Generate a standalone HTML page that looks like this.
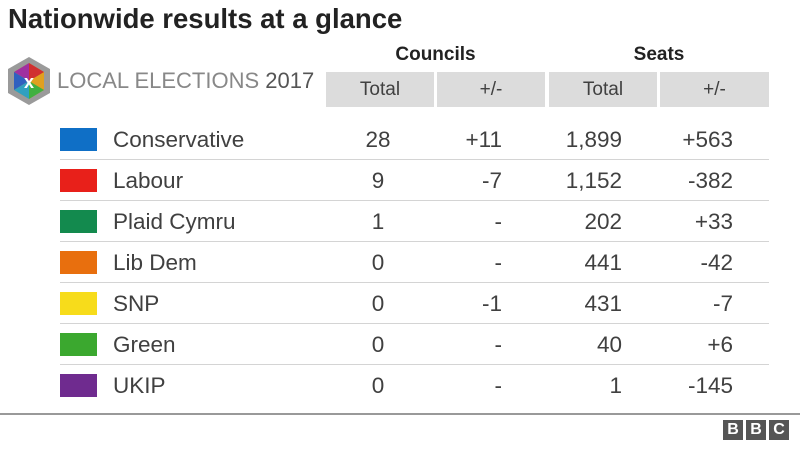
<!DOCTYPE html>
<html><head><meta charset="utf-8"><style>
body{margin:0;width:800px;height:450px;background:#fff;position:relative;overflow:hidden;font-family:"Liberation Sans",Arial,sans-serif;color:#404040}
div{position:absolute}
.t{font-size:22.5px;line-height:24px;white-space:nowrap}
.hc{background:#dcdcdc;top:72px;height:35px;font-size:19px;line-height:35px;text-align:center;color:#404040}
.sep{height:1px;background:#d4d4d4;left:60px;width:709px}
</style></head><body>
<div style="left:8px;top:3px;font-size:27.5px;font-weight:bold;color:#222;white-space:nowrap">Nationwide results at a glance</div>
<svg style="position:absolute;left:6px;top:55px" width="46" height="52" viewBox="0 0 46 52">
<polygon points="23,2 44,14 44,38 23,50 2,38 2,14" fill="#9a9a9a"/>
<polygon points="23,8 38,17 38,35 23,44 8,35 8,17" fill="#e0a020"/>
<polygon points="23,8 38,17 23,26" fill="#d03030"/><polygon points="8,17 23,8 23,26" fill="#a030a0"/>
<polygon points="8,17 23,26 8,35" fill="#3060c0"/><polygon points="8,35 23,26 23,44" fill="#30a0c0"/>
<polygon points="23,44 23,26 38,35" fill="#40b040"/>
<text x="23" y="33" font-size="18" font-weight="bold" fill="#fff" text-anchor="middle" font-family="Liberation Sans">x</text>
</svg>
<div style="left:57px;top:68px;font-size:22px;color:#888;white-space:nowrap;letter-spacing:0px">LOCAL ELECTIONS <span style="color:#555">2017</span></div>
<div class="t" style="left:326px;width:219px;top:43px;text-align:center;font-weight:bold;font-size:19px;color:#222">Councils</div>
<div class="t" style="left:549px;width:220px;top:43px;text-align:center;font-weight:bold;font-size:19px;color:#222">Seats</div>
<div class="hc" style="left:326px;width:108px">Total</div>
<div class="hc" style="left:437px;width:108px">+/-</div>
<div class="hc" style="left:549px;width:108px">Total</div>
<div class="hc" style="left:660px;width:109px">+/-</div>
<div style="left:0;top:413px;width:800px;height:2px;background:#999"></div>
<div style="left:723px;top:420px;width:66px;height:20px">
<div style="left:0;top:0;width:20px;height:20px;background:#555;color:#fff;font-size:16px;line-height:20px;text-align:center;font-weight:bold">B</div>
<div style="left:23px;top:0;width:20px;height:20px;background:#555;color:#fff;font-size:16px;line-height:20px;text-align:center;font-weight:bold">B</div>
<div style="left:46px;top:0;width:20px;height:20px;background:#555;color:#fff;font-size:16px;line-height:20px;text-align:center;font-weight:bold">C</div>
</div>
<script>
const parties=["Conservative","Labour","Plaid Cymru","Lib Dem","SNP","Green","UKIP"];
const colors=["#0f6fc6","#e8201a","#138a4e","#e86f0e","#f7dc1b","#3ba82f","#6f2b8f"];
const councilTotals=["28","9","1","0","0","0","0"];
const councilChanges=["+11","-7","-","-","-1","-","-"];
const seatTotals=["1,899","1,152","202","441","431","40","1"];
const seatChanges=["+563","-382","+33","-42","-7","+6","-145"];
const top0=128,pitch=41;
function mk(name,cls,css,txt){const d=document.createElement('div');d.className=cls;d.style.cssText=css;if(txt!==undefined)d.textContent=txt;


document.body.appendChild(d);return d;}
parties.forEach((p,i)=>{
 const y=top0+i*pitch;
 mk('swatch-'+i,'', `left:60px;top:${y}px;width:37px;height:23px;background:${colors[i]}`);
 mk('party-name-'+i,'t',`left:113px;top:${y}px`,p);
 mk('council-total-'+i,'t',`left:340px;width:76px;text-align:center;top:${y}px`,councilTotals[i]);
 mk('council-change-'+i,'t',`left:402px;width:100px;text-align:right;top:${y}px`,councilChanges[i]);
 mk('seat-total-'+i,'t',`left:522px;width:100px;text-align:right;top:${y}px`,seatTotals[i]);
 mk('seat-change-'+i,'t',`left:633px;width:100px;text-align:right;top:${y}px`,seatChanges[i]);
 if(i<parties.length-1) mk('row-separator-'+i,'sep',`top:${y+31}px`);
});
</script>
</body></html>
